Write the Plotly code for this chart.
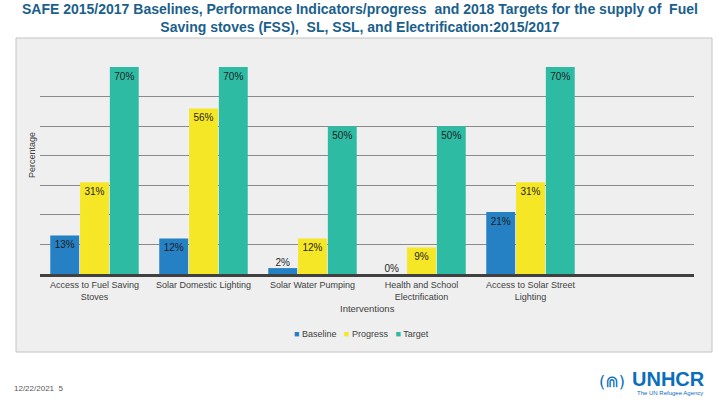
import plotly.graph_objects as go

categories = ["Access to Fuel Saving<br>Stoves", "Solar Domestic Lighting", "Solar Water Pumping",
              "Health and School<br>Electrification", "Access to Solar Street<br>Lighting"]
baseline = [13, 12, 2, 0, 21]
progress = [31, 56, 12, 9, 31]
target = [70, 70, 50, 50, 70]
y_ticks = [0, 10, 20, 30, 40, 50, 60, 70]

colors = {"Baseline": "#2680c4", "Progress": "#f6e726", "Target": "#2ebba4"}
W, H = 720, 405
L, R, T, B = 40, 694, 67, 274
FONT = "Liberation Sans, Arial"

def px(x):
    return (x - L) / (R - L)

def py(y):
    return (B - y) / (B - T)

fig = go.Figure()
series = [("Baseline", baseline), ("Progress", progress), ("Target", target)]
for name, vals in series:
    fig.add_trace(go.Bar(
        name=name, x=categories, y=vals, offsetgroup=name,
        marker=dict(color=colors[name], line=dict(width=0)),
        showlegend=False, hoverinfo="skip",
    ))
for name, vals in series:
    small = [v < 5 for v in vals]
    fig.add_trace(go.Scatter(
        name=name + " labels", x=categories, y=vals, offsetgroup=name,
        mode="markers+text",
        marker=dict(size=[0 if s else 7 for s in small], opacity=0),
        text=[f"{v}%" for v in vals],
        textposition=["top center" if s else "bottom center" for s in small],
        textfont=dict(family=FONT, size=10, color="#1e1e1e"),
        showlegend=False, cliponaxis=False, hoverinfo="skip",
    ))

fig.update_layout(
    width=W, height=H,
    margin=dict(l=L, r=W - R, t=T, b=H - B, pad=0),
    paper_bgcolor="white", plot_bgcolor="rgba(0,0,0,0)",
    barmode="group", bargap=0.18, bargroupgap=0.03,
    scattermode="group", scattergap=0.18,
    showlegend=False,
    font=dict(family=FONT, color="#404040"),
)
fig.update_xaxes(
    type="category", categoryorder="array", categoryarray=categories,
    range=[-0.5, 5.5], showgrid=False, showline=True, linecolor="#404040", linewidth=3,
    ticks="", tickfont=dict(family=FONT, size=9, color="#404040"),
    fixedrange=True,
)
fig.update_yaxes(
    range=[0, 70], tickvals=y_ticks, showticklabels=False, showgrid=True,
    gridcolor="#8a8a8a", gridwidth=1, zeroline=False, showline=False, fixedrange=True,
)

shapes = [dict(type="rect", xref="paper", yref="paper", x0=px(16), x1=px(712), y0=py(352), y1=py(38),
               fillcolor="#efefef", line=dict(color="#c4c4c4", width=1), layer="below")]
fig.update_layout(shapes=shapes)

legend_text = "   ".join(
    f"<span style='color:{colors[n]}'>■</span> {n}" for n, _ in series)

ann = [
    dict(text="<b>SAFE 2015/2017 Baselines, Performance Indicators/progress  and 2018 Targets for the supply of  Fuel<br>Saving stoves (FSS),  SL, SSL, and Electrification:2015/2017</b>",
         x=px(360), y=py(18), xanchor="center",
         font=dict(family=FONT, size=14, color="#1b5f8c")),
    dict(text="Percentage", x=px(32), y=py(155), textangle=-90, xanchor="center",
         font=dict(family=FONT, size=9, color="#404040")),
    dict(text="Interventions", x=px(368), y=py(308), xanchor="center",
         font=dict(family=FONT, size=9.5, color="#404040")),
    dict(text=legend_text, x=px(361), y=py(334), xanchor="center",
         font=dict(family=FONT, size=9, color="#404040")),
    dict(text="12/22/2021  5", x=px(12), y=py(388), xanchor="left",
         font=dict(family=FONT, size=8, color="#595959")),
    dict(text="<b>UNHCR</b>", x=px(707), y=py(379), xanchor="right",
         font=dict(family=FONT, size=20, color="#0a6ebd")),
    dict(text="The UN Refugee Agency", x=px(705), y=py(393), xanchor="right",
         font=dict(family=FONT, size=6, color="#0a6ebd")),
    dict(text="(⋒)", x=px(612), y=py(381), xanchor="center",
         font=dict(family="DejaVu Sans", size=16, color="#0a6ebd")),
]
for a in ann:
    a.update(xref="paper", yref="paper", showarrow=False, yanchor="middle")
fig.update_layout(annotations=ann)

fig.write_html("out.html")
